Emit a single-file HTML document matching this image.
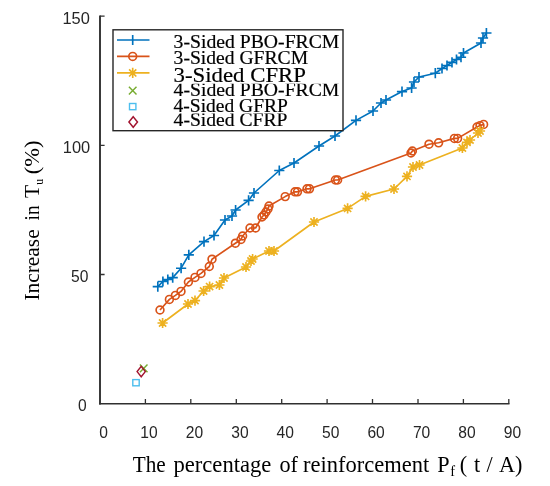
<!DOCTYPE html>
<html><head><meta charset="utf-8"><title>chart</title>
<style>html,body{margin:0;padding:0;background:#fff}svg{display:block}</style>
</head><body>
<svg width="550" height="486" viewBox="0 0 550 486">
<rect width="550" height="486" fill="#fff"/>
<defs><clipPath id="c4"><rect x="170" y="83.8" width="175" height="20"/></clipPath><clipPath id="c6"><rect x="170" y="113.5" width="175" height="17"/></clipPath></defs>
<g stroke="#303030" fill="none" stroke-linecap="butt">
<path stroke-width="1.9" d="M100.0 15.5V404.4"/>
<path stroke-width="1.5" d="M99.1 403.7H509.5"/>
<path stroke-width="1.3" d="M145.4 403.7V399.09999999999997M190.8 403.7V399.09999999999997M236.3 403.7V399.09999999999997M281.7 403.7V399.09999999999997M327.1 403.7V399.09999999999997M372.5 403.7V399.09999999999997M418.0 403.7V399.09999999999997M463.4 403.7V399.09999999999997M508.8 403.7V399.09999999999997M100.0 274.5H104.6M100.0 145.4H104.6M100.0 16.2H104.6"/>
</g>
<g fill="none" stroke-width="1.65" stroke-linejoin="round">
<polyline stroke="#0072BD" points="157.8,286.6 162.9,281.5 167.8,279.5 172.7,277.6 181.1,268.2 188.8,254.8 204.0,241.6 214.0,235.5 225.0,220.0 232.0,216.0 235.6,210.0 248.6,200.4 254.0,193.0 279.3,170.5 294.0,163.0 319.0,146.0 335.0,136.0 356.0,120.4 373.0,111.0 381.0,103.0 386.0,100.0 402.0,91.6 411.6,88.0 414.0,82.0 419.0,77.0 435.3,73.2 442.0,68.5 447.0,65.5 452.0,62.3 456.5,59.5 461.0,57.2 463.5,53.0 481.0,43.0 483.0,38.0 486.4,33.0"/>
<polyline stroke="#D95319" points="160.0,310.0 169.4,299.4 175.4,295.4 181.0,291.4 188.4,282.0 195.0,277.4 201.0,273.4 209.3,266.5 212.0,259.2 235.4,243.2 241.0,239.5 242.6,236.0 250.0,228.0 255.6,228.0 262.0,217.0 264.0,215.0 266.0,212.0 268.0,209.0 269.0,206.0 285.2,196.6 295.0,191.8 297.5,191.8 307.0,188.8 309.5,188.8 335.4,180.0 337.6,180.0 411.0,153.0 412.4,151.0 429.0,144.2 438.6,142.8 454.4,138.4 457.6,138.4 477.0,127.0 480.0,125.6 483.6,124.4"/>
<polyline stroke="#EDB120" points="162.6,323.0 188.0,304.0 195.0,300.6 203.6,291.0 209.6,286.6 219.4,285.0 224.0,278.0 246.0,267.0 251.0,261.0 252.6,259.0 269.0,251.0 274.0,251.0 314.0,222.0 347.6,208.4 365.6,196.4 394.0,189.0 407.0,176.4 413.0,167.0 419.5,165.0 462.4,148.0 467.0,142.4 470.0,140.0 478.0,133.0 480.0,131.0"/>
</g>
<path fill="none" stroke="#0072BD" stroke-width="1.65" d="M152.7 286.6H162.9M157.8 281.5V291.7M157.8 281.5H168.0M162.9 276.4V286.6M162.7 279.5H172.9M167.8 274.4V284.6M167.6 277.6H177.8M172.7 272.5V282.7M176.0 268.2H186.2M181.1 263.1V273.3M183.7 254.8H193.9M188.8 249.7V259.9M198.9 241.6H209.1M204.0 236.5V246.7M208.9 235.5H219.1M214.0 230.4V240.6M219.9 220.0H230.1M225.0 214.9V225.1M226.9 216.0H237.1M232.0 210.9V221.1M230.5 210.0H240.7M235.6 204.9V215.1M243.5 200.4H253.7M248.6 195.3V205.5M248.9 193.0H259.1M254.0 187.9V198.1M274.2 170.5H284.4M279.3 165.4V175.6M288.9 163.0H299.1M294.0 157.9V168.1M313.9 146.0H324.1M319.0 140.9V151.1M329.9 136.0H340.1M335.0 130.9V141.1M350.9 120.4H361.1M356.0 115.3V125.5M367.9 111.0H378.1M373.0 105.9V116.1M375.9 103.0H386.1M381.0 97.9V108.1M380.9 100.0H391.1M386.0 94.9V105.1M396.9 91.6H407.1M402.0 86.5V96.7M406.5 88.0H416.7M411.6 82.9V93.1M408.9 82.0H419.1M414.0 76.9V87.1M413.9 77.0H424.1M419.0 71.9V82.1M430.2 73.2H440.4M435.3 68.1V78.3M436.9 68.5H447.1M442.0 63.4V73.6M441.9 65.5H452.1M447.0 60.4V70.6M446.9 62.3H457.1M452.0 57.2V67.4M451.4 59.5H461.6M456.5 54.4V64.6M455.9 57.2H466.1M461.0 52.1V62.3M458.4 53.0H468.6M463.5 47.9V58.1M475.9 43.0H486.1M481.0 37.9V48.1M477.9 38.0H488.1M483.0 32.9V43.1M481.3 33.0H491.5M486.4 27.9V38.1"/>
<g fill="none" stroke="#D95319" stroke-width="1.65"><circle cx="160.0" cy="310.0" r="3.9"/><circle cx="169.4" cy="299.4" r="3.9"/><circle cx="175.4" cy="295.4" r="3.9"/><circle cx="181.0" cy="291.4" r="3.9"/><circle cx="188.4" cy="282.0" r="3.9"/><circle cx="195.0" cy="277.4" r="3.9"/><circle cx="201.0" cy="273.4" r="3.9"/><circle cx="209.3" cy="266.5" r="3.9"/><circle cx="212.0" cy="259.2" r="3.9"/><circle cx="235.4" cy="243.2" r="3.9"/><circle cx="241.0" cy="239.5" r="3.9"/><circle cx="242.6" cy="236.0" r="3.9"/><circle cx="250.0" cy="228.0" r="3.9"/><circle cx="255.6" cy="228.0" r="3.9"/><circle cx="262.0" cy="217.0" r="3.9"/><circle cx="264.0" cy="215.0" r="3.9"/><circle cx="266.0" cy="212.0" r="3.9"/><circle cx="268.0" cy="209.0" r="3.9"/><circle cx="269.0" cy="206.0" r="3.9"/><circle cx="285.2" cy="196.6" r="3.9"/><circle cx="295.0" cy="191.8" r="3.9"/><circle cx="297.5" cy="191.8" r="3.9"/><circle cx="307.0" cy="188.8" r="3.9"/><circle cx="309.5" cy="188.8" r="3.9"/><circle cx="335.4" cy="180.0" r="3.9"/><circle cx="337.6" cy="180.0" r="3.9"/><circle cx="411.0" cy="153.0" r="3.9"/><circle cx="412.4" cy="151.0" r="3.9"/><circle cx="429.0" cy="144.2" r="3.9"/><circle cx="438.6" cy="142.8" r="3.9"/><circle cx="454.4" cy="138.4" r="3.9"/><circle cx="457.6" cy="138.4" r="3.9"/><circle cx="477.0" cy="127.0" r="3.9"/><circle cx="480.0" cy="125.6" r="3.9"/><circle cx="483.6" cy="124.4" r="3.9"/></g>
<path fill="none" stroke="#EDB120" stroke-width="1.65" d="M157.5 323.0H167.7M162.6 317.9V328.1M159.0 319.4L166.2 326.6M159.0 326.6L166.2 319.4M182.9 304.0H193.1M188.0 298.9V309.1M184.4 300.4L191.6 307.6M184.4 307.6L191.6 300.4M189.9 300.6H200.1M195.0 295.5V305.7M191.4 297.0L198.6 304.2M191.4 304.2L198.6 297.0M198.5 291.0H208.7M203.6 285.9V296.1M200.0 287.4L207.2 294.6M200.0 294.6L207.2 287.4M204.5 286.6H214.7M209.6 281.5V291.7M206.0 283.0L213.2 290.2M206.0 290.2L213.2 283.0M214.3 285.0H224.5M219.4 279.9V290.1M215.8 281.4L223.0 288.6M215.8 288.6L223.0 281.4M218.9 278.0H229.1M224.0 272.9V283.1M220.4 274.4L227.6 281.6M220.4 281.6L227.6 274.4M240.9 267.0H251.1M246.0 261.9V272.1M242.4 263.4L249.6 270.6M242.4 270.6L249.6 263.4M245.9 261.0H256.1M251.0 255.9V266.1M247.4 257.4L254.6 264.6M247.4 264.6L254.6 257.4M247.5 259.0H257.7M252.6 253.9V264.1M249.0 255.4L256.2 262.6M249.0 262.6L256.2 255.4M263.9 251.0H274.1M269.0 245.9V256.1M265.4 247.4L272.6 254.6M265.4 254.6L272.6 247.4M268.9 251.0H279.1M274.0 245.9V256.1M270.4 247.4L277.6 254.6M270.4 254.6L277.6 247.4M308.9 222.0H319.1M314.0 216.9V227.1M310.4 218.4L317.6 225.6M310.4 225.6L317.6 218.4M342.5 208.4H352.7M347.6 203.3V213.5M344.0 204.8L351.2 212.0M344.0 212.0L351.2 204.8M360.5 196.4H370.7M365.6 191.3V201.5M362.0 192.8L369.2 200.0M362.0 200.0L369.2 192.8M388.9 189.0H399.1M394.0 183.9V194.1M390.4 185.4L397.6 192.6M390.4 192.6L397.6 185.4M401.9 176.4H412.1M407.0 171.3V181.5M403.4 172.8L410.6 180.0M403.4 180.0L410.6 172.8M407.9 167.0H418.1M413.0 161.9V172.1M409.4 163.4L416.6 170.6M409.4 170.6L416.6 163.4M414.4 165.0H424.6M419.5 159.9V170.1M415.9 161.4L423.1 168.6M415.9 168.6L423.1 161.4M457.3 148.0H467.5M462.4 142.9V153.1M458.8 144.4L466.0 151.6M458.8 151.6L466.0 144.4M461.9 142.4H472.1M467.0 137.3V147.5M463.4 138.8L470.6 146.0M463.4 146.0L470.6 138.8M464.9 140.0H475.1M470.0 134.9V145.1M466.4 136.4L473.6 143.6M466.4 143.6L473.6 136.4M472.9 133.0H483.1M478.0 127.9V138.1M474.4 129.4L481.6 136.6M474.4 136.6L481.6 129.4M474.9 131.0H485.1M480.0 125.9V136.1M476.4 127.4L483.6 134.6M476.4 134.6L483.6 127.4"/>
<path fill="none" stroke="#77AC30" stroke-width="1.45" d="M139.9 364.6L147.5 372.2M139.9 372.2L147.5 364.6"/>
<rect x="132.8" y="379.6" width="6.4" height="6.2" fill="none" stroke="#4DBEEE" stroke-width="1.4"/>
<path fill="none" stroke="#A2142F" stroke-width="1.45" d="M141.2 366.4L145.3 371.6L141.2 376.8L137.1 371.6Z"/>
<rect x="113" y="29.8" width="230" height="100.9" fill="#fff" stroke="#262626" stroke-width="1.4"/>
<g fill="none" stroke-width="1.65">
<path stroke="#0072BD" d="M117 40H149.5M127.6 40.0H137.8M132.7 34.9V45.1"/>
<path stroke="#D95319" d="M117 56.4H149.5"/><circle cx="132.7" cy="56.4" r="3.9" stroke="#D95319"/>
<path stroke="#EDB120" d="M117 72.9H149.5M127.6 72.9H137.8M132.7 67.8V78.0M129.1 69.3L136.3 76.5M129.1 76.5L136.3 69.3"/>
<path stroke="#77AC30" stroke-width="1.45" d="M128.9 86.8L136.5 94.4M128.9 94.4L136.5 86.8"/>
<rect x="129.5" y="103.5" width="6.4" height="6.2" stroke="#4DBEEE" stroke-width="1.4"/>
<path stroke="#A2142F" stroke-width="1.45" d="M133.2 116.7L137.5 122.0L133.2 127.30000000000001L128.9 122.0Z"/>
</g>
<g font-family="'Liberation Serif', 'Times New Roman', serif" fill="#000">
<text x="173.6" y="47.6" font-size="18.5" textLength="165.8" lengthAdjust="spacingAndGlyphs" stroke="#000" stroke-width="0.2">3-Sided PBO-FRCM</text>
<text x="173.6" y="64" font-size="18.5" textLength="134.5" lengthAdjust="spacingAndGlyphs" stroke="#000" stroke-width="0.2">3-Sided GFRCM</text>
<text x="173.6" y="81.8" font-size="22" textLength="132.4" lengthAdjust="spacingAndGlyphs" stroke="#000" stroke-width="0.2">3-Sided CFRP</text>
<text x="173.6" y="96.4" font-size="18.5" textLength="165.8" lengthAdjust="spacingAndGlyphs" stroke="#000" stroke-width="0.2" clip-path="url(#c4)">4-Sided PBO-FRCM</text>
<text x="173.6" y="111.9" font-size="18.5" textLength="114.3" lengthAdjust="spacingAndGlyphs" stroke="#000" stroke-width="0.2">4-Sided GFRP</text>
<text x="173.6" y="125.7" font-size="18.5" textLength="113.8" lengthAdjust="spacingAndGlyphs" stroke="#000" stroke-width="0.2" clip-path="url(#c6)">4-Sided CFRP</text>
<text y="471.9" font-size="22.2"><tspan x="132.8" textLength="33" lengthAdjust="spacingAndGlyphs">The</tspan> <tspan x="173.4" textLength="98" lengthAdjust="spacingAndGlyphs">percentage</tspan> <tspan x="279.4">of</tspan> <tspan x="302.9" textLength="126.3" lengthAdjust="spacingAndGlyphs">reinforcement</tspan> <tspan x="437.2">P</tspan><tspan x="450.2" y="475.6" font-size="14.5">f</tspan> <tspan x="459.8" y="471.9">(</tspan> <tspan x="474">t</tspan> <tspan x="486.6">/</tspan> <tspan x="499">A)</tspan></text>
<text transform="translate(38.6,300.6) rotate(-90)" y="0" font-size="21.6"><tspan x="0" textLength="71.3" lengthAdjust="spacingAndGlyphs">Increase</tspan> <tspan x="80.2" textLength="15" lengthAdjust="spacingAndGlyphs">in</tspan> <tspan x="102.6" textLength="13" lengthAdjust="spacingAndGlyphs">T</tspan><tspan x="115.8" y="4" font-size="11.8">u</tspan> <tspan x="126.3" y="0" textLength="33.8" lengthAdjust="spacingAndGlyphs">(%)</tspan></text>
</g>
<g font-family="'Liberation Sans', Arial, sans-serif" font-size="15.6" fill="#262626">
<text x="103.6" y="438.2" text-anchor="middle">0</text>
<text x="149.0" y="438.2" text-anchor="middle">10</text>
<text x="194.4" y="438.2" text-anchor="middle">20</text>
<text x="239.9" y="438.2" text-anchor="middle">30</text>
<text x="285.3" y="438.2" text-anchor="middle">40</text>
<text x="330.7" y="438.2" text-anchor="middle">50</text>
<text x="376.1" y="438.2" text-anchor="middle">60</text>
<text x="421.6" y="438.2" text-anchor="middle">70</text>
<text x="467.0" y="438.2" text-anchor="middle">80</text>
<text x="512.4" y="438.2" text-anchor="middle">90</text>
<text x="86.8" y="411.2" text-anchor="end">0</text>
<text x="88.4" y="282.0" text-anchor="end">50</text>
<text x="90.2" y="152.9" text-anchor="end" textLength="27.4" lengthAdjust="spacingAndGlyphs">100</text>
<text x="89.8" y="23.7" text-anchor="end" textLength="27.4" lengthAdjust="spacingAndGlyphs">150</text>
</g>
</svg>
</body></html>
